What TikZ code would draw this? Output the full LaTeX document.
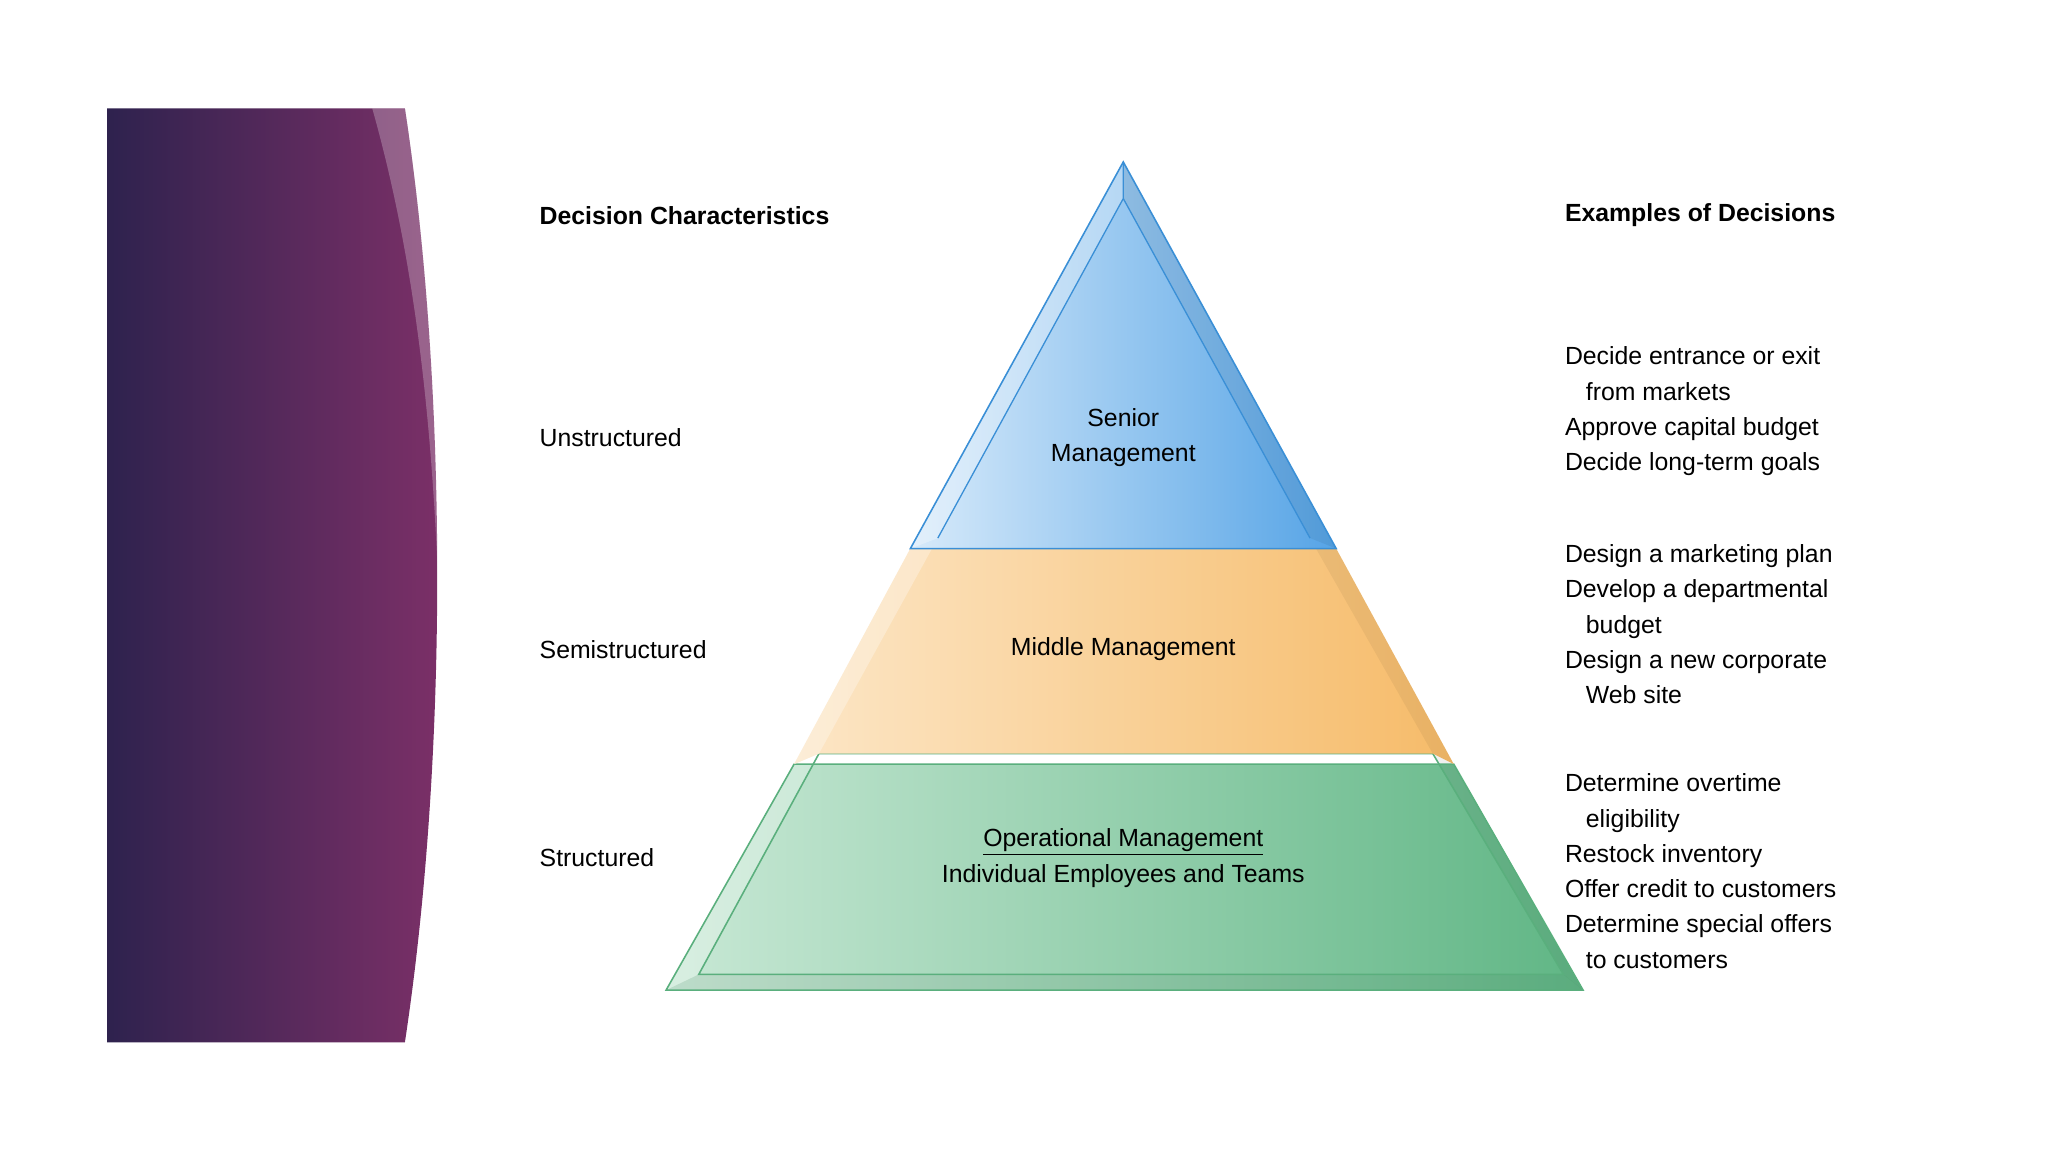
\documentclass[tikz,border=0pt]{standalone}
\usepackage{fontspec}
\setmainfont{Liberation Sans}
\definecolor{pdark}{RGB}{46,34,78}
\definecolor{plight}{RGB}{125,48,104}
\definecolor{gL}{RGB}{200,232,213}
\definecolor{gR}{RGB}{96,182,133}
\definecolor{gE}{RGB}{90,175,125}
\definecolor{oL}{RGB}{252,230,198}
\definecolor{oR}{RGB}{246,187,105}
\definecolor{bL}{RGB}{215,234,250}
\definecolor{bR}{RGB}{86,164,230}
\definecolor{bE}{RGB}{58,143,214}
\begin{document}
\begin{tikzpicture}[x=1pt,y=-1pt,
  lab/.style={anchor=west,inner sep=0pt,font=\fontsize{19}{27}\selectfont,align=left},
  ctr/.style={inner sep=0pt,font=\fontsize{19}{27}\selectfont,align=center},
  hd/.style={lab,font=\fontsize{19}{27}\selectfont\bfseries}]
\useasboundingbox (0,0) rectangle (1568,882);
\fill[white] (0,0) rectangle (1568,882);
% left panel
\shade[left color=pdark,right color=plight]
  (82,83) -- (310,83) .. controls (343,300) and (343,580) .. (310,798) -- (82,798) -- cycle;
\fill[white,opacity=0.25] (285,83) -- (310,83) .. controls (326.5,191.5) and (335.25,315.75) .. (335.25,440)
  .. controls (330,320) and (318,200) .. (285,83) -- cycle;
% green layer
\shade[left color=gL,right color=gR]
  (608,585) -- (1113,585) -- (1212,758) -- (510,758) -- cycle;
\fill[white,opacity=0.3] (608,585) -- (627,577) -- (535,746) -- (510,758) -- cycle;
\fill[black,opacity=0.06] (1113,585) -- (1097,577) -- (1197,746) -- (1212,758) -- cycle;
\fill[black,opacity=0.05] (510,758) -- (535,746) -- (1197,746) -- (1212,758) -- cycle;
\draw[gE,line width=1.2pt] (627,577) -- (1097,577) -- (1197,746) -- (535,746) -- cycle;
\draw[gE,line width=1.2pt] (608,585) -- (1113,585) -- (1212,758) -- (510,758) -- cycle;
% orange layer
\shade[left color=oL,right color=oR]
  (697,420) -- (718,412) -- (1003,412) -- (1023,420) -- (1113,585) -- (1097,577) -- (627,577) -- (608,585) -- cycle;
\fill[white,opacity=0.3] (697,420) -- (718,412) -- (627,577) -- (608,585) -- cycle;
\fill[black,opacity=0.05] (1023,420) -- (1003,412) -- (1097,577) -- (1113,585) -- cycle;
% blue layer
\shade[left color=bL,right color=bR]
  (860,124) -- (1023,420) -- (697,420) -- cycle;
\fill[white,opacity=0.3] (860,124) -- (860,152) -- (718,412) -- (697,420) -- cycle;
\fill[black,opacity=0.06] (860,124) -- (1023,420) -- (1003,412) -- (860,152) -- cycle;
\draw[bE,line width=1.2pt] (860,124) -- (1023,420) -- (697,420) -- cycle;
\draw[bE,line width=1pt] (860,124) -- (860,152) -- (718,412) (860,152) -- (1003,412);
% texts
\node[hd] (h1) at (413,165) {Decision Characteristics};
\node[hd] (h2) at (1198,165) {Examples of Decisions};
\node[lab] (l1) at (413,335) {Unstructured};
\node[lab] (l2) at (413,497) {Semistructured};
\node[lab] (l3) at (413,657) {Structured};
\node[ctr] (c1) at (860,335) {Senior\\Management};
\node[ctr] (c2) at (860,497) {Middle Management};
\node[ctr] (c3) at (860,657) {\underline{Operational Management}\\Individual Employees and Teams};
\node[lab] (r1) at (1198,315) {Decide entrance or exit\\\hspace*{16pt}from markets\\Approve capital budget\\Decide long-term goals};
\node[lab] (r2) at (1198,478) {Design a marketing plan\\Develop a departmental\\\hspace*{16pt}budget\\Design a new corporate\\\hspace*{16pt}Web site};
\node[lab] (r3) at (1198,667) {Determine overtime\\\hspace*{16pt}eligibility\\Restock inventory\\Offer credit to customers\\Determine special offers\\\hspace*{16pt}to customers};
\end{tikzpicture}
\end{document}
